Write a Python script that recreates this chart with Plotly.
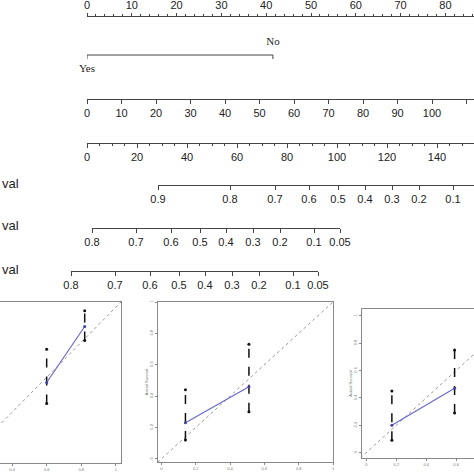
import plotly.graph_objects as go

W = H = 474
# ---- data ----
points_ticks = [0, 10, 20, 30, 40, 50, 60, 70, 80]
yesno_labels = ["Yes", "No"]
yesno_points = [0, 41.5]
var3_ticks = list(range(0, 120, 10))
var4_ticks = list(range(0, 160, 20))
prob1_labels = ["0.9", "0.8", "0.7", "0.6", "0.5", "0.4", "0.3", "0.2", "0.1", "0.05"]
prob1_pos = [0, 72, 117, 151, 180, 207, 234, 261, 295, 317]
prob2_labels = ["0.8", "0.7", "0.6", "0.5", "0.4", "0.3", "0.2", "0.1", "0.05"]
prob2_pos = [0, 44, 79, 108, 134, 161, 188, 222, 248]
prob3_pos = [0, 44, 79, 108, 134, 161, 188, 222, 247]

cal_pred = [[0.6, 0.82], [0.14, 0.51], [0.17, 0.59]]
cal_obs = [[0.57, 0.89], [0.23, 0.46], [0.20, 0.47]]
cal_lo = [[0.45, 0.81], [0.12, 0.30], [0.09, 0.29]]
cal_hi = [[0.76, 0.98], [0.44, 0.73], [0.45, 0.75]]

fig = go.Figure()
FONT = "Liberation Sans, Arial, sans-serif"
def ydom(px_top, px_bot):
    return [1 - px_bot / H, 1 - px_top / H]

axfont = dict(family=FONT, size=11, color="#222")
lay = {}

def nom_axis(i, line_px, x0px, x1px, rng, side, ticklen=4, **kw):
    lay[f"xaxis{i}"] = dict(domain=[x0px / W, x1px / W], range=rng, anchor=f"y{i}",
                            side=side, showline=True, linecolor="#444", linewidth=1,
                            ticks="outside", ticklen=ticklen, tickcolor="#444", showgrid=False,
                            zeroline=False, tickfont=axfont, fixedrange=True, automargin=False,
                            ticklabelstandoff=0, **kw)
    if side == "top":
        lay[f"yaxis{i}"] = dict(domain=ydom(line_px, line_px + 2), visible=False, anchor=f"x{i}")
    else:
        lay[f"yaxis{i}"] = dict(domain=ydom(line_px - 2, line_px), visible=False, anchor=f"x{i}")
    fig.add_trace(go.Scatter(x=[rng[0]], y=[0], xaxis=f"x{i}", yaxis=f"y{i}",
                             mode="markers", marker=dict(opacity=0), hoverinfo="skip", showlegend=False))

nom_axis(1, 17, 87, 474, [0, 387 / 4.48], "top", ticklen=3, tickvals=points_ticks,
         minor=dict(dtick=2, ticks="outside", ticklen=2, tickcolor="#444"))
nom_axis(2, 98.5, 87, 474, [0, 387 / 3.45], "bottom", tickvals=var3_ticks)
nom_axis(3, 143, 87, 474, [0, 387 / 2.5], "bottom", tickvals=var4_ticks,
         minor=dict(dtick=5, ticks="outside", ticklen=2, tickcolor="#444"))
nom_axis(4, 185, 158, 474, [0, 316], "bottom", tickvals=prob1_pos, ticktext=prob1_labels)
nom_axis(5, 228, 92, 340, [0, 248], "bottom", tickvals=prob2_pos, ticktext=prob2_labels)
nom_axis(6, 271, 71, 318, [0, 247], "bottom", tickvals=prob3_pos, ticktext=prob2_labels)

# Yes/No row (y units: 5 px each, line at 55 px)
lay["xaxis7"] = dict(domain=[87 / W, 1], range=[0, 387 / 4.48], anchor="y7", visible=False,
                     fixedrange=True, automargin=False)
lay["yaxis7"] = dict(domain=ydom(35, 75), range=[-4, 4], visible=False, anchor="x7", automargin=False)
fig.add_trace(go.Scatter(x=yesno_points, y=[0, 0], xaxis="x7", yaxis="y7", mode="lines",
                         line=dict(color="#444", width=1), showlegend=False, hoverinfo="skip"))
for xp in yesno_points:
    fig.add_trace(go.Scatter(x=[xp, xp], y=[0, -0.8], xaxis="x7", yaxis="y7", mode="lines",
                             line=dict(color="#444", width=1), showlegend=False, hoverinfo="skip"))
fig.add_trace(go.Scatter(x=yesno_points, y=[-2.8, 2.6], xaxis="x7", yaxis="y7", mode="text",
                         text=yesno_labels, textposition="middle center", cliponaxis=False,
                         textfont=dict(family="Liberation Serif, serif", size=11, color="#222"),
                         showlegend=False, hoverinfo="skip"))
anns = []
for ypx in [183, 226, 269]:
    anns.append(dict(x=0, y=1 - ypx / H, xref="paper", yref="paper", xanchor="left", text="val",
                     showarrow=False, font=dict(family=FONT, size=13, color="#222")))

# calibration panels
panels = [
    dict(x=(0, 121), y=(302, 463), xr=[0.33, 1.03], yr=[0.11, 1.03], tv=[0.4, 0.6, 0.8, 1.0]),
    dict(x=(158, 333), y=(302, 462), xr=[-0.02, 1.0], yr=[-0.02, 1.0], tv=[0, 0.2, 0.4, 0.6, 0.8, 1.0]),
    dict(x=(362, 474), y=(309, 458), xr=[-0.03, 0.72], yr=[-0.04, 1.05], tv=[0, 0.2, 0.4, 0.6, 0.8, 1.0]),
]
tiny = dict(family=FONT, size=4, color="#777")
for k, p in enumerate(panels):
    i = 8 + k
    lay[f"xaxis{i}"] = dict(domain=[p["x"][0] / W, p["x"][1] / W], range=p["xr"], anchor=f"y{i}",
                            showline=True, mirror=True, linecolor="#888", ticks="outside", ticklen=2,
                            tickcolor="#888", tickvals=p["tv"], tickfont=tiny, showgrid=False,
                            zeroline=False, fixedrange=True, automargin=False)
    lay[f"yaxis{i}"] = dict(domain=ydom(p["y"][0], p["y"][1]), range=p["yr"], anchor=f"x{i}",
                            showline=True, mirror=True, linecolor="#888", ticks="outside" if k else "",
                            ticklen=2, showticklabels=bool(k),
                            tickcolor="#888", tickvals=p["tv"], tickfont=tiny, tickangle=-90,
                            showgrid=False, zeroline=False, fixedrange=True, automargin=False,
                            title=dict(text="Actual Survival" if k else "", font=tiny, standoff=1))
    fig.add_trace(go.Scatter(x=[-0.1, 1.2], y=[-0.1, 1.2], xaxis=f"x{i}", yaxis=f"y{i}", mode="lines",
                             line=dict(color="#999", width=1, dash="dot"), showlegend=False, hoverinfo="skip"))
    for xp, lo, hi in zip(cal_pred[k], cal_lo[k], cal_hi[k]):
        fig.add_trace(go.Scatter(x=[xp, xp], y=[lo, hi], xaxis=f"x{i}", yaxis=f"y{i}", mode="lines+markers",
                                 line=dict(color="#111", width=1.5, dash="dash"),
                                 marker=dict(size=3, color="#111"), showlegend=False, hoverinfo="skip"))
    fig.add_trace(go.Scatter(x=cal_pred[k], y=cal_obs[k], xaxis=f"x{i}", yaxis=f"y{i}", mode="lines+markers",
                             line=dict(color="#6a6ad0", width=1.2), marker=dict(size=3, color="#4040a0"),
                             showlegend=False, hoverinfo="skip"))

fig.update_layout(width=W, height=H, margin=dict(l=0, r=0, t=0, b=0, autoexpand=False),
                  plot_bgcolor="white", paper_bgcolor="white", showlegend=False,
                  annotations=anns, **lay)
fig.write_html("out.html", config={"displayModeBar": False},
               post_script="document.body.style.margin='0';document.body.style.overflow='hidden';")
